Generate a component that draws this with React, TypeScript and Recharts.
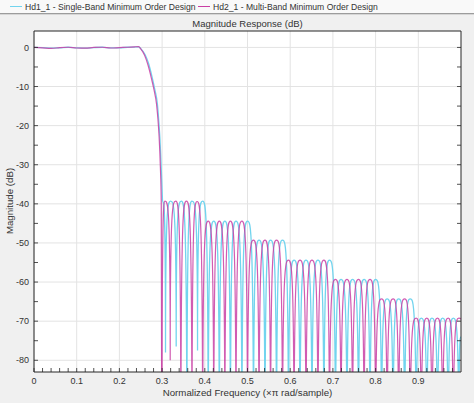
import { LineChart, Line, XAxis, YAxis, CartesianGrid } from "recharts"

// passband + transition (dB)
const passFreq = [0, 0.02, 0.04, 0.06, 0.08, 0.1, 0.12, 0.14, 0.16, 0.18, 0.2, 0.22, 0.235, 0.245]
const hd1PassDb = [0, -0.05, -0.2, -0.1, 0.05, -0.1, -0.2, -0.05, 0.05, -0.1, -0.1, 0.05, 0.1, 0.15]
const hd2PassDb = [0, -0.1, -0.25, -0.05, 0.05, -0.15, -0.2, 0, 0.05, -0.15, -0.05, 0.05, 0.15, 0.2]

const hd1TransFreq = [0.25, 0.26, 0.268, 0.277, 0.283, 0.289, 0.292, 0.295, 0.298, 0.301]
const hd1TransDb = [-0.3, -1.8, -4, -7.8, -10.8, -14.5, -18.5, -23.5, -31, -39.4]
const hd2TransFreq = [0.25, 0.259, 0.267, 0.275, 0.281, 0.287, 0.29, 0.293, 0.296, 0.298, 0.2995]
const hd2TransDb = [-0.4, -2, -4.5, -7.9, -10.8, -14.5, -18, -22.8, -30.7, -39.3, -120]

// stopband: alternating lobe peaks and nulls
const hd1StopFreq = [
  0.301, 0.308, 0.32, 0.333, 0.345, 0.358, 0.37, 0.383, 0.395, 0.408,
  0.421, 0.434, 0.447, 0.46, 0.473, 0.487, 0.5, 0.514,
  0.527, 0.541, 0.554, 0.568, 0.582, 0.596,
  0.609, 0.623, 0.637, 0.651, 0.665, 0.679, 0.692, 0.706,
  0.719, 0.733, 0.746, 0.76, 0.773, 0.787, 0.8, 0.814,
  0.827, 0.841, 0.854, 0.868, 0.881, 0.895,
  0.907, 0.92, 0.932, 0.945, 0.957, 0.97, 0.982, 0.995, 1.0,
]
const hd1StopDb = [
  -39.4, -78, -39.3, -76.5, -39.3, -110, -39.3, -77.5, -39.3, -110,
  -44.4, -110, -44.4, -110, -44.4, -110, -44.4, -110,
  -49.3, -110, -49.3, -110, -49.3, -110,
  -54.4, -110, -54.4, -110, -54.4, -110, -54.4, -110,
  -59.3, -110, -59.3, -110, -59.3, -110, -59.3, -110,
  -64.3, -110, -64.3, -110, -64.3, -110,
  -69.2, -110, -69.2, -110, -69.2, -110, -69.2, -110, -74,
]
const hd2StopFreq = [
  0.2995, 0.307, 0.319, 0.332, 0.344, 0.357, 0.37, 0.382, 0.395,
  0.408, 0.421, 0.434, 0.447, 0.46, 0.473, 0.487, 0.5,
  0.514, 0.527, 0.541, 0.554, 0.568, 0.582,
  0.596, 0.609, 0.623, 0.637, 0.651, 0.665, 0.679, 0.692,
  0.706, 0.719, 0.733, 0.746, 0.76, 0.773, 0.787, 0.8,
  0.814, 0.827, 0.841, 0.854, 0.868, 0.881,
  0.895, 0.907, 0.92, 0.932, 0.945, 0.957, 0.97, 0.982, 0.995, 1.0,
]
const hd2StopDb = [
  -120, -39.3, -80, -39.3, -110, -39.3, -110, -39.4, -110,
  -44.4, -110, -44.4, -110, -44.4, -110, -44.4, -110,
  -49.3, -110, -49.3, -110, -49.3, -110,
  -54.4, -110, -54.4, -110, -54.4, -110, -54.4, -110,
  -59.3, -110, -59.3, -110, -59.3, -110, -59.3, -110,
  -64.3, -110, -64.3, -110, -64.3, -110,
  -69.2, -110, -69.2, -110, -69.2, -110, -69.2, -110, -69.2, -69.6,
]

const xMajor = [0, 0.1, 0.2, 0.3, 0.4, 0.5, 0.6, 0.7, 0.8, 0.9]
const yMajor = [0, -10, -20, -30, -40, -50, -60, -70, -80]
const xTicks = xMajor.flatMap((t) => [0, 0.02, 0.04, 0.06, 0.08].map((m) => +(t + m).toFixed(2)))
const yTicks = yMajor.flatMap((t) => (t > -80 ? [t, t - 5] : [t]))

const CYAN = "#72d4ee"
const MAGENTA = "#c93fa4"
const AXIS = "#262626"
const TEXT = "#333"
const FONT = "'Liberation Sans', Arial, sans-serif"

const pts = (f: number[], db: number[]) => f.map((x, i) => ({ f: x, db: db[i] }))

const hd1Pass = pts([...passFreq, ...hd1TransFreq], [...hd1PassDb, ...hd1TransDb])
const hd2Pass = pts([...passFreq, ...hd2TransFreq], [...hd2PassDb, ...hd2TransDb])
const hd1Stop = pts(hd1StopFreq, hd1StopDb)
const hd2Stop = pts(hd2StopFreq, hd2StopDb)

// draws each peak->null / null->peak step as a lobe arch (vertical at null, flat at peak)
function lobeCurve(context: any) {
  let p: number[][] = []
  return {
    areaStart() {},
    areaEnd() {},
    lineStart() {
      p = []
    },
    point(x: number, y: number) {
      p.push([+x, +y])
    },
    lineEnd() {
      if (!p.length) return
      context.moveTo(p[0][0], p[0][1])
      for (let i = 1; i < p.length; i++) {
        const [x0, y0] = p[i - 1]
        const [x1, y1] = p[i]
        const d = x1 - x0
        if (y1 > y0) context.bezierCurveTo(x0 + 0.55 * d, y0, x1, y0, x1, y1)
        else context.bezierCurveTo(x0, y1, x1 - 0.55 * d, y1, x1, y1)
      }
    },
  }
}

const fmtX = (v: number) => (v === 0 ? "0" : String(+v.toFixed(1)))
const isMajorX = (v: number) => Math.abs(v * 10 - Math.round(v * 10)) < 1e-6

function BottomTick({ x, y, payload }: any) {
  const v = payload.value
  return (
    <g>
      <line x1={x} x2={x} y1={y} y2={y - 4} stroke={AXIS} strokeWidth={0.8} />
      {isMajorX(v) && (
        <text x={x} y={y + 12} textAnchor="middle" fontSize={9} fill={TEXT} fontFamily={FONT}>
          {fmtX(v)}
        </text>
      )}
    </g>
  )
}

function TopTick({ x, y }: any) {
  return <line x1={x} x2={x} y1={y} y2={y + 4} stroke={AXIS} strokeWidth={0.8} />
}

function LeftTick({ x, y, payload }: any) {
  const v = payload.value
  return (
    <g>
      <line x1={x} x2={x + 4} y1={y} y2={y} stroke={AXIS} strokeWidth={0.8} />
      {v % 10 === 0 && (
        <text x={x - 5} y={y} dy="0.35em" textAnchor="end" fontSize={9} fill={TEXT} fontFamily={FONT}>
          {v}
        </text>
      )}
    </g>
  )
}

function RightTick({ x, y }: any) {
  return <line x1={x} x2={x - 4} y1={y} y2={y} stroke={AXIS} strokeWidth={0.8} />
}

function LegendItem({ left, color, label }: { left: number; color: string; label: string }) {
  return (
    <div style={{ position: "absolute", left, top: 0, height: 13, display: "flex", alignItems: "center" }}>
      <span style={{ width: 12, height: 1.5, background: color, marginRight: 3 }} />
      <span style={{ fontSize: 8.6, color: TEXT, whiteSpace: "nowrap" }}>{label}</span>
    </div>
  )
}

export default function App() {
  const domainY: [number, number] = [-83, 4.2]
  return (
    <div
      style={{
        position: "absolute",
        left: 0,
        top: 0,
        width: 474,
        height: 403,
        background: "#f0f0f0",
        fontFamily: FONT,
        overflow: "hidden",
      }}
    >
      <div
        style={{
          position: "absolute",
          left: 0,
          top: 0,
          width: 474,
          height: 13,
          background: "#f9f9f9",
          borderBottom: "1px solid #9c9c9c",
          boxShadow: "0 1px 0 #d6d6d6",
        }}
      />
      <LegendItem left={10} color={CYAN} label="Hd1_1 - Single-Band Minimum Order Design" />
      <LegendItem left={198} color={MAGENTA} label="Hd2_1 - Multi-Band Minimum Order Design" />

      <div style={{ position: "absolute", left: 34, width: 427, top: 18, textAlign: "center", fontSize: 9.5, color: TEXT }}>
        Magnitude Response (dB)
      </div>
      <div style={{ position: "absolute", left: 34, width: 427, top: 387, textAlign: "center", fontSize: 9.7, color: TEXT }}>
        Normalized Frequency (×π rad/sample)
      </div>
      <div
        style={{
          position: "absolute",
          left: 9,
          top: 201,
          transform: "translate(-50%, -50%) rotate(-90deg)",
          fontSize: 9.7,
          color: TEXT,
          whiteSpace: "nowrap",
        }}
      >
        Magnitude (dB)
      </div>

      <div style={{ position: "absolute", left: 0, top: 0 }}>
        <LineChart width={474} height={403} margin={{ top: 30, right: 12, bottom: 30, left: 33 }}>
          <CartesianGrid
            fill="#ffffff"
            stroke="#e3e3e3"
            verticalValues={xMajor}
            horizontalValues={yMajor}
          />
          <XAxis
            type="number"
            dataKey="f"
            domain={[0, 1]}
            ticks={xTicks}
            height={1}
            tickSize={0}
            tickMargin={0}
            tickLine={false}
            axisLine={{ stroke: AXIS }}
            tick={<BottomTick />}
            interval={0}
            allowDataOverflow
          />
          <XAxis
            xAxisId="top"
            orientation="top"
            type="number"
            domain={[0, 1]}
            ticks={xTicks}
            height={1}
            tickSize={0}
            tickMargin={0}
            tickLine={false}
            axisLine={{ stroke: AXIS }}
            tick={<TopTick />}
            interval={0}
            allowDataOverflow
          />
          <YAxis
            type="number"
            domain={domainY}
            ticks={yTicks}
            width={1}
            tickSize={0}
            tickMargin={0}
            tickLine={false}
            axisLine={{ stroke: AXIS }}
            tick={<LeftTick />}
            interval={0}
            allowDataOverflow
          />
          <YAxis
            yAxisId="right"
            orientation="right"
            type="number"
            domain={domainY}
            ticks={yTicks}
            width={1}
            tickSize={0}
            tickMargin={0}
            tickLine={false}
            axisLine={{ stroke: AXIS }}
            tick={<RightTick />}
            interval={0}
            allowDataOverflow
          />
          <Line data={hd1Pass} dataKey="db" type="monotone" stroke={CYAN} strokeWidth={1.3} dot={false} isAnimationActive={false} />
          <Line data={hd1Stop} dataKey="db" type={lobeCurve as any} stroke={CYAN} strokeWidth={1.3} dot={false} isAnimationActive={false} />
          <Line data={hd2Pass} dataKey="db" type="monotone" stroke={MAGENTA} strokeWidth={1.2} strokeOpacity={0.85} dot={false} isAnimationActive={false} />
          <Line data={hd2Stop} dataKey="db" type={lobeCurve as any} stroke={MAGENTA} strokeWidth={1.2} strokeOpacity={0.85} dot={false} isAnimationActive={false} />
        </LineChart>
      </div>
    </div>
  )
}
